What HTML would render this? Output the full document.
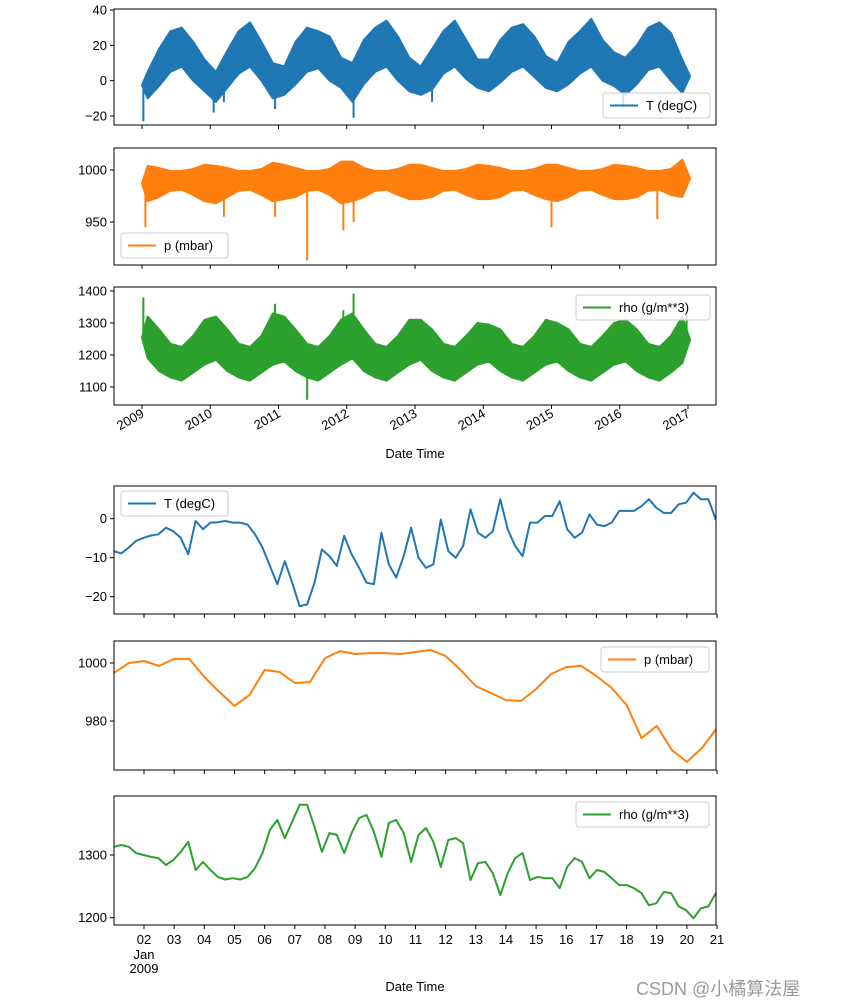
<!DOCTYPE html>
<html><head><meta charset="utf-8"><style>
html,body{margin:0;padding:0;background:#fff;}
svg{display:block;font-family:"Liberation Sans","DejaVu Sans",sans-serif;}
.wm{position:absolute;left:636px;top:975px;font:18px "Liberation Sans","Noto Sans CJK SC",sans-serif;color:#9a9a9a;}
</style></head><body>
<div style="position:relative;width:850px;height:1006px">
<svg id="c" width="850" height="1006" viewBox="0 0 850 1006"></svg>
<div class="wm">CSDN @小橘算法屋</div>
</div>
<script>
// ---- Top figure: 2-month bins starting Jan 2009 (48 bins) ----
const tLo=[-10,-3,5,8,0,-6,-12,-4,4,8,0,-10,-8,-2,5,7,0,-4,-12,-2,5,8,0,-6,-8,-5,4,8,1,-4,-6,-1,5,8,2,-4,-6,-2,4,8,0,-3,-8,-2,6,8,0,-7];
const tHi=[5,18,28,30,22,12,5,17,28,33,22,10,8,22,30,28,25,13,10,23,30,34,25,13,8,18,28,34,23,12,12,23,30,32,25,14,10,22,28,35,23,16,13,20,30,33,27,12];
const pLo=[970,974,980,981,976,970,968,974,980,981,976,970,972,974,980,981,976,968,970,974,980,981,976,972,972,974,980,981,976,972,972,974,980,981,976,972,970,974,980,981,976,972,972,974,980,981,976,974];
const pHi=[1004,1002,999,999,1001,1005,1004,1002,999,999,1001,1007,1005,1002,999,999,1001,1008,1008,1002,999,999,1001,1005,1005,1002,999,999,1001,1005,1004,1002,999,999,1001,1005,1005,1002,999,999,1001,1005,1004,1002,999,999,1001,1010];
const rLo=[1190,1150,1130,1120,1145,1170,1185,1150,1130,1120,1145,1170,1180,1150,1130,1120,1145,1170,1190,1150,1130,1120,1145,1170,1185,1150,1130,1120,1145,1170,1180,1150,1130,1120,1145,1170,1180,1150,1130,1120,1145,1170,1180,1150,1130,1120,1145,1175];
const rHi=[1320,1280,1235,1225,1260,1310,1320,1280,1235,1225,1260,1330,1320,1280,1235,1225,1260,1310,1330,1280,1235,1225,1260,1310,1310,1280,1235,1225,1260,1300,1295,1280,1235,1225,1260,1310,1300,1280,1235,1225,1260,1300,1310,1280,1235,1225,1260,1320];
const tSpikeYr=[2009.02,2012.1,2010.05,2010.95,2013.25,2016.05,2010.2],tSpikeVal=[-23,-21,-18,-16,-12,-15,-12];
const pSpikeYr=[2011.42,2011.95,2015.0,2010.2,2016.55,2009.05,2012.1,2010.95],pSpikeVal=[913,942,945,955,953,945,950,955];
const rSpikeYr=[2009.02,2011.42,2012.1,2010.95,2016.98,2011.95],rSpikeVal=[1380,1060,1392,1360,1330,1340];
const yearTicks=[2009,2010,2011,2012,2013,2014,2015,2016,2017];
// ---- Bottom figure: Jan 2009, step ~5.9 h ----
const tStepDays=0.2464;
const tDay=[-8.3,-8.9,-7.4,-5.7,-4.9,-4.3,-4.0,-2.3,-3.2,-4.9,-9.1,-0.6,-2.7,-1.0,-0.9,-0.6,-1.0,-1.0,-1.5,-4.0,-7.4,-12.1,-16.8,-10.9,-16.4,-22.4,-22.0,-16.4,-7.9,-9.6,-12.1,-4.4,-9.1,-12.6,-16.4,-16.8,-3.6,-11.7,-15.1,-9.6,-2.3,-10.0,-12.6,-11.7,-0.2,-8.3,-10.0,-7.0,2.4,-3.6,-4.9,-3.2,5.0,-2.7,-7.0,-9.6,-1.0,-1.0,0.7,0.7,4.5,-2.7,-4.9,-3.6,1.1,-1.5,-1.9,-1.0,2.0,2.0,2.0,3.2,5.0,2.8,1.5,1.5,3.7,4.1,6.7,5.0,5.0,-0.2,-2.7];
const rDay=[1313,1316,1313,1303,1300,1297,1295,1284,1292,1305,1321,1276,1289,1276,1265,1261,1263,1261,1265,1279,1303,1340,1356,1327,1353,1380,1380,1345,1305,1335,1332,1303,1335,1359,1364,1337,1297,1351,1356,1335,1289,1332,1343,1321,1281,1324,1327,1319,1260,1287,1289,1271,1236,1271,1295,1303,1260,1265,1263,1263,1247,1281,1295,1289,1263,1276,1273,1263,1252,1252,1247,1239,1220,1223,1241,1239,1218,1212,1199,1215,1218,1239,1257];
const pStepDays=0.5;
const pDay=[996.6,1000,1000.7,999,1001.4,1001.4,995.2,990,985.2,989,997.6,996.9,993.1,993.4,1001.7,1004.1,1003.1,1003.4,1003.4,1003.1,1003.8,1004.5,1002.4,997.6,992,989.7,987.2,986.9,991,996.2,998.6,999,995.5,991.4,985.5,974.1,978.3,970,965.9,970.7,977.6];
const dayLabels=["02","03","04","05","06","07","08","09","10","11","12","13","14","15","16","17","18","19","20","21"];

const svg=document.getElementById('c');const NS='http://www.w3.org/2000/svg';
function el(tag,a,parent,txt){const e=document.createElementNS(NS,tag);for(const k in a)e.setAttribute(k,a[k]);if(txt!==undefined)e.textContent=txt;(parent||svg).appendChild(e);return e;}
const X0=114,X1=716;
const C1='#1f77b4',C2='#ff7f0e',C3='#2ca02c';
function panel(name,top,bot,v2y,yticks){
  const g=el('g',{},svg);
  const cp='cp'+name;const d=el('clipPath',{id:cp},g);el('rect',{x:X0,y:top,width:X1-X0,height:bot-top},d);
  const inner=el('g',{'clip-path':'url(#'+cp+')'},g);
  yticks.forEach(v=>{const y=v2y(v);el('line',{x1:X0-4,x2:X0,y1:y,y2:y,stroke:'#000','stroke-width':1},g);
    const t=el('text',{x:X0-7,y:y+4.5,'text-anchor':'end','font-size':13},g,String(v).replace('-','−'));
    });
  el('rect',{x:X0,y:top,width:X1-X0,height:bot-top,fill:'none',stroke:'#000','stroke-width':1},g);
  return {g,inner};
}
function legend(g,x,y,w,color,label){
  const lg=el('g',{},g);
  el('rect',{x:x,y:y,width:w,height:25,rx:3,fill:'#fff','fill-opacity':0.8,stroke:'#ccc'},lg);
  el('line',{x1:x+7,x2:x+35,y1:y+12.5,y2:y+12.5,stroke:color,'stroke-width':2},lg);
  el('text',{x:x+43,y:y+17,'font-size':13},lg,label);
}
const yx=yr=>142+(yr-2009)*68.25;
function band(p,lo,hi,spY,spV,v2y,color){
  const pts=[];
  lo.forEach((_,i)=>{pts.push([yx(2009+(i+0.5)/6),v2y(hi[i])]);});
  const back=[];lo.forEach((_,i)=>{back.push([yx(2009+(i+0.5)/6),v2y(lo[i])]);});
  const first=[yx(2009),(v2y(hi[0])+v2y(lo[0]))/2],last=[yx(2017.03),(v2y(hi[hi.length-1])+v2y(lo[lo.length-1]))/2];
  const all=[first,...pts,last,...back.reverse()];
  const poly=el('polygon',{points:all.map(q=>q.join(',')).join(' '),fill:color,stroke:color,'stroke-width':2,'stroke-linejoin':'round'},p.inner);
  
  spY.forEach((yr,i)=>{const x=yx(yr);const i2=Math.min(47,Math.max(0,Math.floor((yr-2009)*6)));
    const mid=(v2y(hi[i2])+v2y(lo[i2]))/2;
    const s=el('line',{x1:x,x2:x,y1:mid,y2:v2y(spV[i]),stroke:color,'stroke-width':2},p.inner);
    });
}
const v1=v=>80.7-v*1.767, v2=v=>170-(v-1000)*1.04, v3=v=>291+(1400-v)*0.32;
const P1=panel('panel-temperature-full',9,125,v1,[40,20,0,-20]);
const P2=panel('panel-pressure-full',148,265,v2,[1000,950]);
const P3=panel('panel-rho-full',287,405,v3,[1400,1300,1200,1100]);
band(P1,tLo,tHi,tSpikeYr,tSpikeVal,v1,C1);
band(P2,pLo,pHi,pSpikeYr,pSpikeVal,v2,C2);
band(P3,rLo,rHi,rSpikeYr,rSpikeVal,v3,C3);
[[P1,125],[P2,265],[P3,405]].forEach(([p,b])=>yearTicks.forEach(yr=>{const x=yx(yr);el('line',{x1:x,x2:x,y1:b,y2:b+4,stroke:'#000'},p.g);}));
yearTicks.forEach(yr=>{const x=yx(yr);const t=el('text',{x:x+3,y:416,'text-anchor':'end','font-size':13,transform:'rotate(-30 '+(x+3)+' 416)'},svg,String(yr));
  });
legend(P1.g,603,93,107,C1,'T (degC)');
legend(P2.g,121,233,107,C2,'p (mbar)');
legend(P3.g,576,295,134,C3,'rho (g/m**3)');
let tt=el('text',{x:415,y:458,'text-anchor':'middle','font-size':13},svg,'Date Time');
const dx=d=>144+(d-2)*30.16;
const w4=v=>518.7-v*3.9, w5=v=>663-(v-1000)*2.9, w6=v=>855+(1300-v)*0.627;
const P4=panel('panel-temperature-jan',486,614,w4,[0,-10,-20]);
const P5=panel('panel-pressure-jan',641,770,w5,[1000,980]);
const P6=panel('panel-rho-jan',796,925,w6,[1300,1200]);
function line(p,vals,step,start,v2y,color,name){
  const d=vals.map((v,i)=>(i?'L':'M')+dx(start+i*step).toFixed(1)+','+v2y(v).toFixed(1)).join('');
  const l=el('path',{d:d,fill:'none',stroke:color,'stroke-width':2,'stroke-linejoin':'round'},p.inner);
  
}
line(P4,tDay,tStepDays,1.0,w4,C1,'series-temperature');
line(P5,pDay,pStepDays,1.0,w5,C2,'series-pressure');
line(P6,rDay,tStepDays,1.0,w6,C3,'series-rho');
[[P4,614],[P5,770],[P6,925]].forEach(([p,b])=>dayLabels.forEach((_,i)=>{const x=dx(i+2);el('line',{x1:x,x2:x,y1:b,y2:b+4,stroke:'#000'},p.g);}));
dayLabels.forEach((lab,i)=>{const t=el('text',{x:dx(i+2),y:944,'text-anchor':'middle','font-size':13},svg,lab);});
el('text',{x:dx(2),y:959,'text-anchor':'middle','font-size':13},svg,'Jan');
el('text',{x:dx(2),y:973,'text-anchor':'middle','font-size':13},svg,'2009');
legend(P4.g,121,491,107,C1,'T (degC)');
legend(P5.g,601,647,108,C2,'p (mbar)');
legend(P6.g,576,802,133,C3,'rho (g/m**3)');
tt=el('text',{x:415,y:991,'text-anchor':'middle','font-size':13},svg,'Date Time');
</script>
</body></html>
